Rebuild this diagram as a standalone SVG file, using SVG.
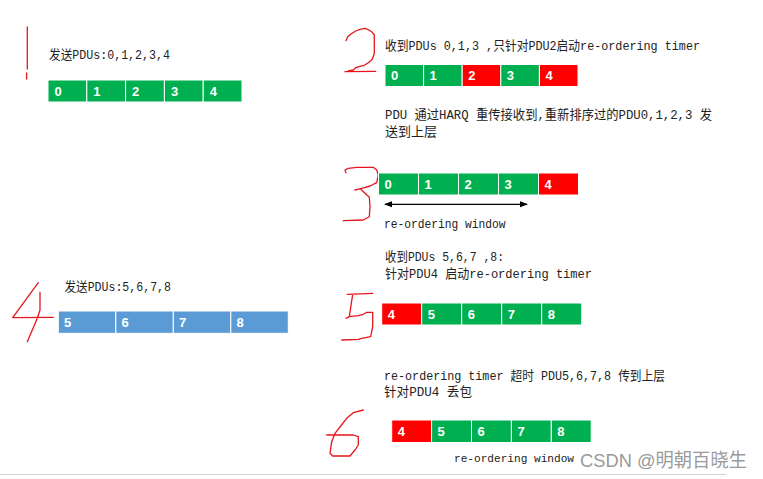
<svg xmlns="http://www.w3.org/2000/svg" width="763" height="479" viewBox="0 0 763 479">
<style>
.lbl{font-family:"Liberation Mono","Noto Sans CJK SC",monospace;font-size:13px;fill:#222}
.sm{font-size:11.5px}
.num{font-family:"Liberation Sans","Noto Sans",sans-serif;font-size:13px;font-weight:bold;fill:#fff}
.g{fill:#00B050;stroke:#fff;stroke-width:1}
.r{fill:#FF0000;stroke:#fff;stroke-width:1}
.b{fill:#5B9BD5;stroke:#fff;stroke-width:1}
.hand{fill:none;stroke:#E8141C;stroke-width:1.3;stroke-linejoin:round;stroke-linecap:round}
.wm{font-family:"Liberation Sans","Noto Sans CJK SC",sans-serif;font-size:19px;fill:#9a9a9a}
</style>
<defs>
<marker id="ah" markerWidth="8" markerHeight="8" refX="7" refY="4" orient="auto-start-reverse" markerUnits="userSpaceOnUse">
<path d="M0,1 L8,4 L0,7 Z" fill="#000"/>
</marker>
</defs>
<rect width="763" height="479" fill="#fff"/>

<!-- handwritten step numbers -->
<g id="hand-numbers">
<path class="hand" d="M27.3,27 L27.3,69 M26.6,73 L26.6,79"/>
<path class="hand" d="M346,40.7 L347.7,36.7 L351,34 L355.7,31 L360,29.3 L365,28.3 L369,30 L372.3,32.3 L374.3,35 L374.3,53.3 L372.3,59.3 L368.3,62.7 L364.3,65.3 L359,66.7 L355.7,67.7 L353.3,70 L348.3,71 M345,71.7 L375.7,71.3"/>
<path class="hand" d="M346,172.7 L345,170 L348.3,168.3 L356.7,167.3 L373.3,167.3 L376.7,170 L378.3,175 L376.7,182.7 L370,186 L361.7,188.3 L355,190 M360.7,189.3 L365,193.3 L369.3,197.3 L370,206.7 L369.3,216.7 L363.3,220 L343.3,220.7"/>
<path class="hand" d="M38.3,282.7 L12.7,317.7 L53.3,317.3 M40,292.3 L40,310 L37.3,318.3 L27.3,341.7"/>
<path class="hand" d="M347.3,294.3 L372.7,293.3 M352.7,294.3 L349.3,316.7 L346,318.3 M349.3,316.7 L358.3,315.7 L363.3,314.3 L366.7,312.3 L372.7,312.3 L372.7,326.7 L370.7,336.7 L361.7,338.3 L358.3,339.3 L341.7,340"/>
<path class="hand" d="M363.3,410 L353.3,412.7 L346.7,418.3 L340.7,426 L335,433.3 L331.7,441.7 L330,453.3 L332.7,456 L338.3,456 L350,456 L355,450 L358.3,445 L358.3,436.7 L353.3,435 L326.7,435"/>
</g>

<!-- step 1 -->
<g id="step1">
<text class="lbl" x="49" y="59" textLength="121" lengthAdjust="spacingAndGlyphs">发送PDUs:0,1,2,3,4</text>
<rect class="g" x="48" y="80" width="38.8" height="22"/>
<rect class="g" x="86.8" y="80" width="38.8" height="22"/>
<rect class="g" x="125.6" y="80" width="38.8" height="22"/>
<rect class="g" x="164.4" y="80" width="38.8" height="22"/>
<rect class="g" x="203.2" y="80" width="38.8" height="22"/>
<text class="num" x="54.5" y="95.5">0</text>
<text class="num" x="93.3" y="95.5">1</text>
<text class="num" x="132.1" y="95.5">2</text>
<text class="num" x="170.9" y="95.5">3</text>
<text class="num" x="209.7" y="95.5">4</text>
</g>

<!-- step 2 -->
<g id="step2">
<text class="lbl" x="385" y="50" textLength="315" lengthAdjust="spacingAndGlyphs">收到PDUs 0,1,3 ,只针对PDU2启动re-ordering timer</text>
<rect class="g" x="385" y="64.5" width="38.6" height="22"/>
<rect class="g" x="423.6" y="64.5" width="38.6" height="22"/>
<rect class="r" x="462.2" y="64.5" width="38.6" height="22"/>
<rect class="g" x="500.8" y="64.5" width="38.6" height="22"/>
<rect class="r" x="539.4" y="64.5" width="38.6" height="22"/>
<text class="num" x="391" y="80">0</text>
<text class="num" x="429.6" y="80">1</text>
<text class="num" x="468.2" y="80">2</text>
<text class="num" x="506.8" y="80">3</text>
<text class="num" x="545.4" y="80">4</text>
</g>

<!-- step 3 -->
<g id="step3">
<text class="lbl" x="385" y="119" textLength="327" lengthAdjust="spacingAndGlyphs">PDU 通过HARQ 重传接收到,重新排序过的PDU0,1,2,3 发</text>
<text class="lbl" x="385" y="136" textLength="52" lengthAdjust="spacingAndGlyphs">送到上层</text>
<rect class="g" x="378.5" y="173" width="40" height="22"/>
<rect class="g" x="418.5" y="173" width="40" height="22"/>
<rect class="g" x="458.5" y="173" width="40" height="22"/>
<rect class="g" x="498.5" y="173" width="40" height="22"/>
<rect class="r" x="538.5" y="173" width="40" height="22"/>
<text class="num" x="384.5" y="188.5">0</text>
<text class="num" x="424.5" y="188.5">1</text>
<text class="num" x="464.5" y="188.5">2</text>
<text class="num" x="504.5" y="188.5">3</text>
<text class="num" x="544.5" y="188.5">4</text>
<text class="lbl" x="384" y="228" textLength="121.5" lengthAdjust="spacingAndGlyphs">re-ordering window</text>
</g>

<!-- step 4 -->
<g id="step4">
<text class="lbl" x="64.5" y="291" textLength="106.5" lengthAdjust="spacingAndGlyphs">发送PDUs:5,6,7,8</text>
<rect class="b" x="58.3" y="311" width="57.5" height="22.3"/>
<rect class="b" x="115.8" y="311" width="57.5" height="22.3"/>
<rect class="b" x="173.3" y="311" width="57.5" height="22.3"/>
<rect class="b" x="230.8" y="311" width="57.5" height="22.3"/>
<text class="num" x="64" y="327">5</text>
<text class="num" x="121.5" y="327">6</text>
<text class="num" x="179" y="327">7</text>
<text class="num" x="236.5" y="327">8</text>
</g>

<!-- step 5 -->
<g id="step5">
<text class="lbl" x="385" y="261" textLength="119" lengthAdjust="spacingAndGlyphs">收到PDUs 5,6,7 ,8:</text>
<text class="lbl" x="385" y="278" textLength="207" lengthAdjust="spacingAndGlyphs">针对PDU4  启动re-ordering timer</text>
<rect class="r" x="381.7" y="303" width="40" height="22"/>
<rect class="g" x="421.7" y="303" width="40" height="22"/>
<rect class="g" x="461.7" y="303" width="40" height="22"/>
<rect class="g" x="501.7" y="303" width="40" height="22"/>
<rect class="g" x="541.7" y="303" width="40" height="22"/>
<text class="num" x="387.7" y="318.5">4</text>
<text class="num" x="427.7" y="318.5">5</text>
<text class="num" x="467.7" y="318.5">6</text>
<text class="num" x="507.7" y="318.5">7</text>
<text class="num" x="547.7" y="318.5">8</text>
</g>

<!-- step 6 -->
<g id="step6">
<text class="lbl" x="384" y="380" textLength="281" lengthAdjust="spacingAndGlyphs">re-ordering timer 超时 PDU5,6,7,8 传到上层</text>
<text class="lbl" x="384" y="396" textLength="88" lengthAdjust="spacingAndGlyphs">针对PDU4 丢包</text>
<rect class="r" x="391.7" y="420" width="39.9" height="22.5"/>
<rect class="g" x="431.6" y="420" width="39.9" height="22.5"/>
<rect class="g" x="471.5" y="420" width="39.9" height="22.5"/>
<rect class="g" x="511.4" y="420" width="39.9" height="22.5"/>
<rect class="g" x="551.3" y="420" width="39.9" height="22.5"/>
<text class="num" x="397.7" y="436">4</text>
<text class="num" x="437.6" y="436">5</text>
<text class="num" x="477.5" y="436">6</text>
<text class="num" x="517.4" y="436">7</text>
<text class="num" x="557.3" y="436">8</text>
<text class="lbl sm" x="454" y="462" textLength="120" lengthAdjust="spacingAndGlyphs">re-ordering window</text>
</g>

<!-- connectors -->
<g id="connectors">
<line x1="385" y1="204.3" x2="527" y2="204.3" stroke="#000" stroke-width="1.3" marker-start="url(#ah)" marker-end="url(#ah)"/>
</g>

<line x1="0" y1="474.5" x2="726" y2="474.5" stroke="#d0d0d0" stroke-width="1"/>
<text class="wm" x="580" y="467" textLength="167" lengthAdjust="spacingAndGlyphs">CSDN @明朝百晓生</text>
</svg>
